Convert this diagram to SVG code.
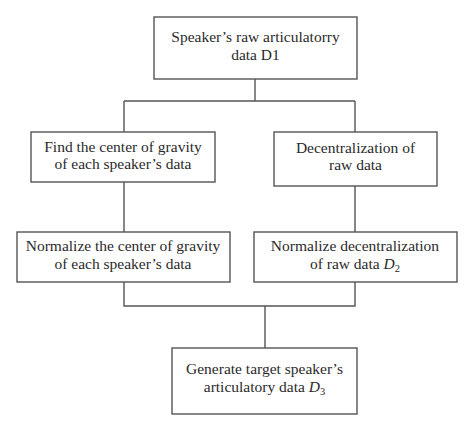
<svg xmlns="http://www.w3.org/2000/svg" width="474" height="431" viewBox="0 0 474 431">
<style>
.box{fill:#fff;stroke:#555;stroke-width:1.4}
.ln{fill:none;stroke:#555;stroke-width:1.4}
text{font-family:"Liberation Serif","DejaVu Serif",serif;font-size:15.5px;fill:#2a2a2a;text-anchor:middle}
.it{font-style:italic}
.sub{font-size:10.5px}
</style>
<rect width="474" height="431" fill="#fff"/>
<g id="connectors">
<path class="ln" d="M255,79 V101 M124,101 H355 M124,101 V132 M355,101 V132"/>
<path class="ln" d="M124,182 V232 M355,186 V232"/>
<path class="ln" d="M124,282 V306 H355 V282 M265,306 V348"/>
</g>
<g id="n1"><rect class="box" x="154" y="17" width="203" height="62"/>
<text x="255.5" y="42">Speaker’s raw articulatorry</text><text x="255.5" y="60">data D1</text></g>
<g id="n2"><rect class="box" x="31" y="132" width="184" height="50"/>
<text x="123" y="152">Find the center of gravity</text><text x="123" y="169">of each speaker’s data</text></g>
<g id="n3"><rect class="box" x="274" y="132" width="163" height="54"/>
<text x="355.5" y="152.5">Decentralization of</text><text x="355.5" y="170">raw data</text></g>
<g id="n4"><rect class="box" x="17" y="232" width="213" height="50"/>
<text x="123" y="251">Normalize the center of gravity</text><text x="123" y="269">of each speaker’s data</text></g>
<g id="n5"><rect class="box" x="254" y="232" width="203" height="50"/>
<text x="355" y="251">Normalize decentralization</text><text x="355" y="269">of raw data <tspan class="it">D</tspan><tspan class="sub" dy="3">2</tspan></text></g>
<g id="n6"><rect class="box" x="172" y="348" width="185" height="66"/>
<text x="264.5" y="374">Generate target speaker’s</text><text x="264.5" y="392">articulatory data <tspan class="it">D</tspan><tspan class="sub" dy="3">3</tspan></text></g>
</svg>
